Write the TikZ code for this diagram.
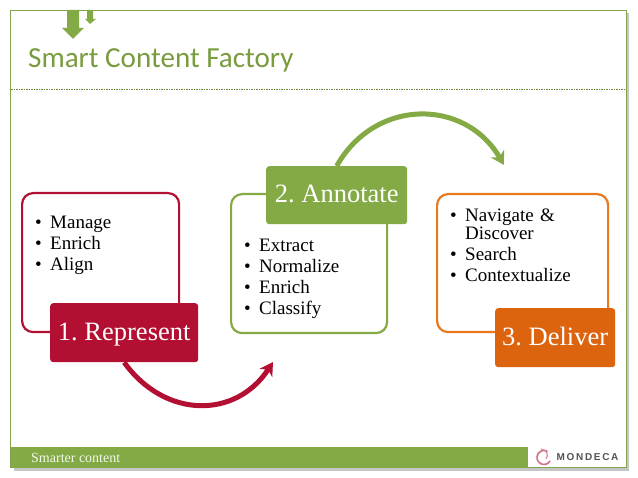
\documentclass[tikz,border=0pt]{standalone}
\usepackage{fontspec}
\setmainfont{Liberation Serif}
\newfontfamily\titlefont{Carlito}
\newfontfamily\logofont{Liberation Sans}
\usetikzlibrary{arrows.meta,positioning}
\definecolor{leaf}{HTML}{84AA45}
\definecolor{wine}{HTML}{B20F32}
\definecolor{amber}{HTML}{DD640F}
\definecolor{amberline}{HTML}{E8791F}
\newcommand{\bul}[1]{\par\parskip=3pt\noindent\makebox[15pt][l]{\textbullet}#1}
\newcommand{\cont}[1]{\par\parskip=0pt\noindent\hspace*{15pt}#1}

\begin{document}
\begin{tikzpicture}[x=1pt, y=-1pt,
  framebox/.style={draw, line width=2.2pt, rounded corners=11pt, fill=white, anchor=north west, inner sep=0pt},
  stepname/.style={rounded corners=3pt, anchor=north west, inner sep=0pt, text=white,
                   text height=20pt, text depth=5pt,
                   font=\fontsize{26.5}{30}\selectfont\frenchspacing},
  itemlist/.style={anchor=north west, inner sep=0pt, text width=#1, align=left,
                   font=\fontsize{19}{18}\selectfont},
  arr/.style={-{Stealth[length=13pt, width=15pt, inset=4pt]}, line width=5pt},
  down/.style={fill=leaf, draw=none},
]
\useasboundingbox (0,0) rectangle (638,478);
% slide frame
\fill[gray!45] (14,13) rectangle (629,471);
\draw[leaf!85!gray, fill=white, line width=1pt] (10.5,10.5) rectangle (626,468);
\fill[down] (67,10) -- (79,10) -- (79,28) -- (84,28) -- (73,39) -- (62,28) -- (67,28) -- cycle;
\fill[down] (87,10) -- (93,10) -- (93,19) -- (96,19) -- (90,24) -- (85,19) -- (87,19) -- cycle;
\node[anchor=base west, inner sep=0pt, text=leaf!92!black, font=\titlefont\fontsize{29.1}{32}\selectfont] (title) at (28,68) {Smart Content Factory};
\draw[leaf!80!black, dash pattern=on 1.5pt off 1pt, line width=.7pt] (11,89) -- (626,89);

% footer
\fill[leaf] (10.5,447) rectangle (528,468);
\node[anchor=west, inner sep=0pt, text=white!90!leaf, font=\fontsize{14}{15}\selectfont] (foot) at (31,458) {Smarter content};
\draw[wine!60, line width=1.6pt] (547.5,451.4) arc (-60:-330:7);
\draw[wine!50, line width=1.1pt] (541,449) .. controls (547,450) and (549,455) .. (546,459);
\node[anchor=west, inner sep=0pt, text=gray!65!black, font=\logofont\bfseries\fontsize{10}{10}\selectfont] (logo) at (556.5,457.5) {M\,O\,N\,D\,E\,C\,A};

% (1) represent
\node[framebox, draw=wine, minimum width=157pt, minimum height=139pt] (box1) at (21,192) {};
\node[itemlist=130pt] (list1) at (35,207) {\bul{Manage}\bul{Enrich}\bul{Align}};
\node[stepname, fill=wine, minimum width=148pt, minimum height=59pt] (lab1) at (50,303) {1. Represent};

% (2) annotate
\node[framebox, draw=leaf, minimum width=156pt, minimum height=139pt] (box2) at (230,193) {};
\node[itemlist=130pt] (list2) at (244,230) {\bul{Extract}\bul{Normalize}\bul{Enrich}\bul{Classify}};
\node[stepname, fill=leaf, minimum width=141pt, minimum height=58pt] (lab2) at (266,166) {2. Annotate};

% (3) deliver
\node[framebox, draw=amberline, minimum width=171pt, minimum height=138pt] (box3) at (436,193) {};
\node[itemlist=135pt] (list3) at (450,200) {\bul{Navigate \&}\cont{Discover}\bul{Search}\bul{Contextualize}};
\node[stepname, fill=amber, minimum width=120pt, minimum height=59pt] (lab3) at (495,308) {3. Deliver};

% arrows between the steps
\coordinate (end1) at (273,362);
\coordinate (end2) at (504,165);
\draw[arr, wine] (lab1.south) .. controls (165,419) and (236,419) .. (end1);
\draw[arr, leaf] (lab2.north) .. controls (375,98) and (465,98) .. (end2);
\end{tikzpicture}
\end{document}
